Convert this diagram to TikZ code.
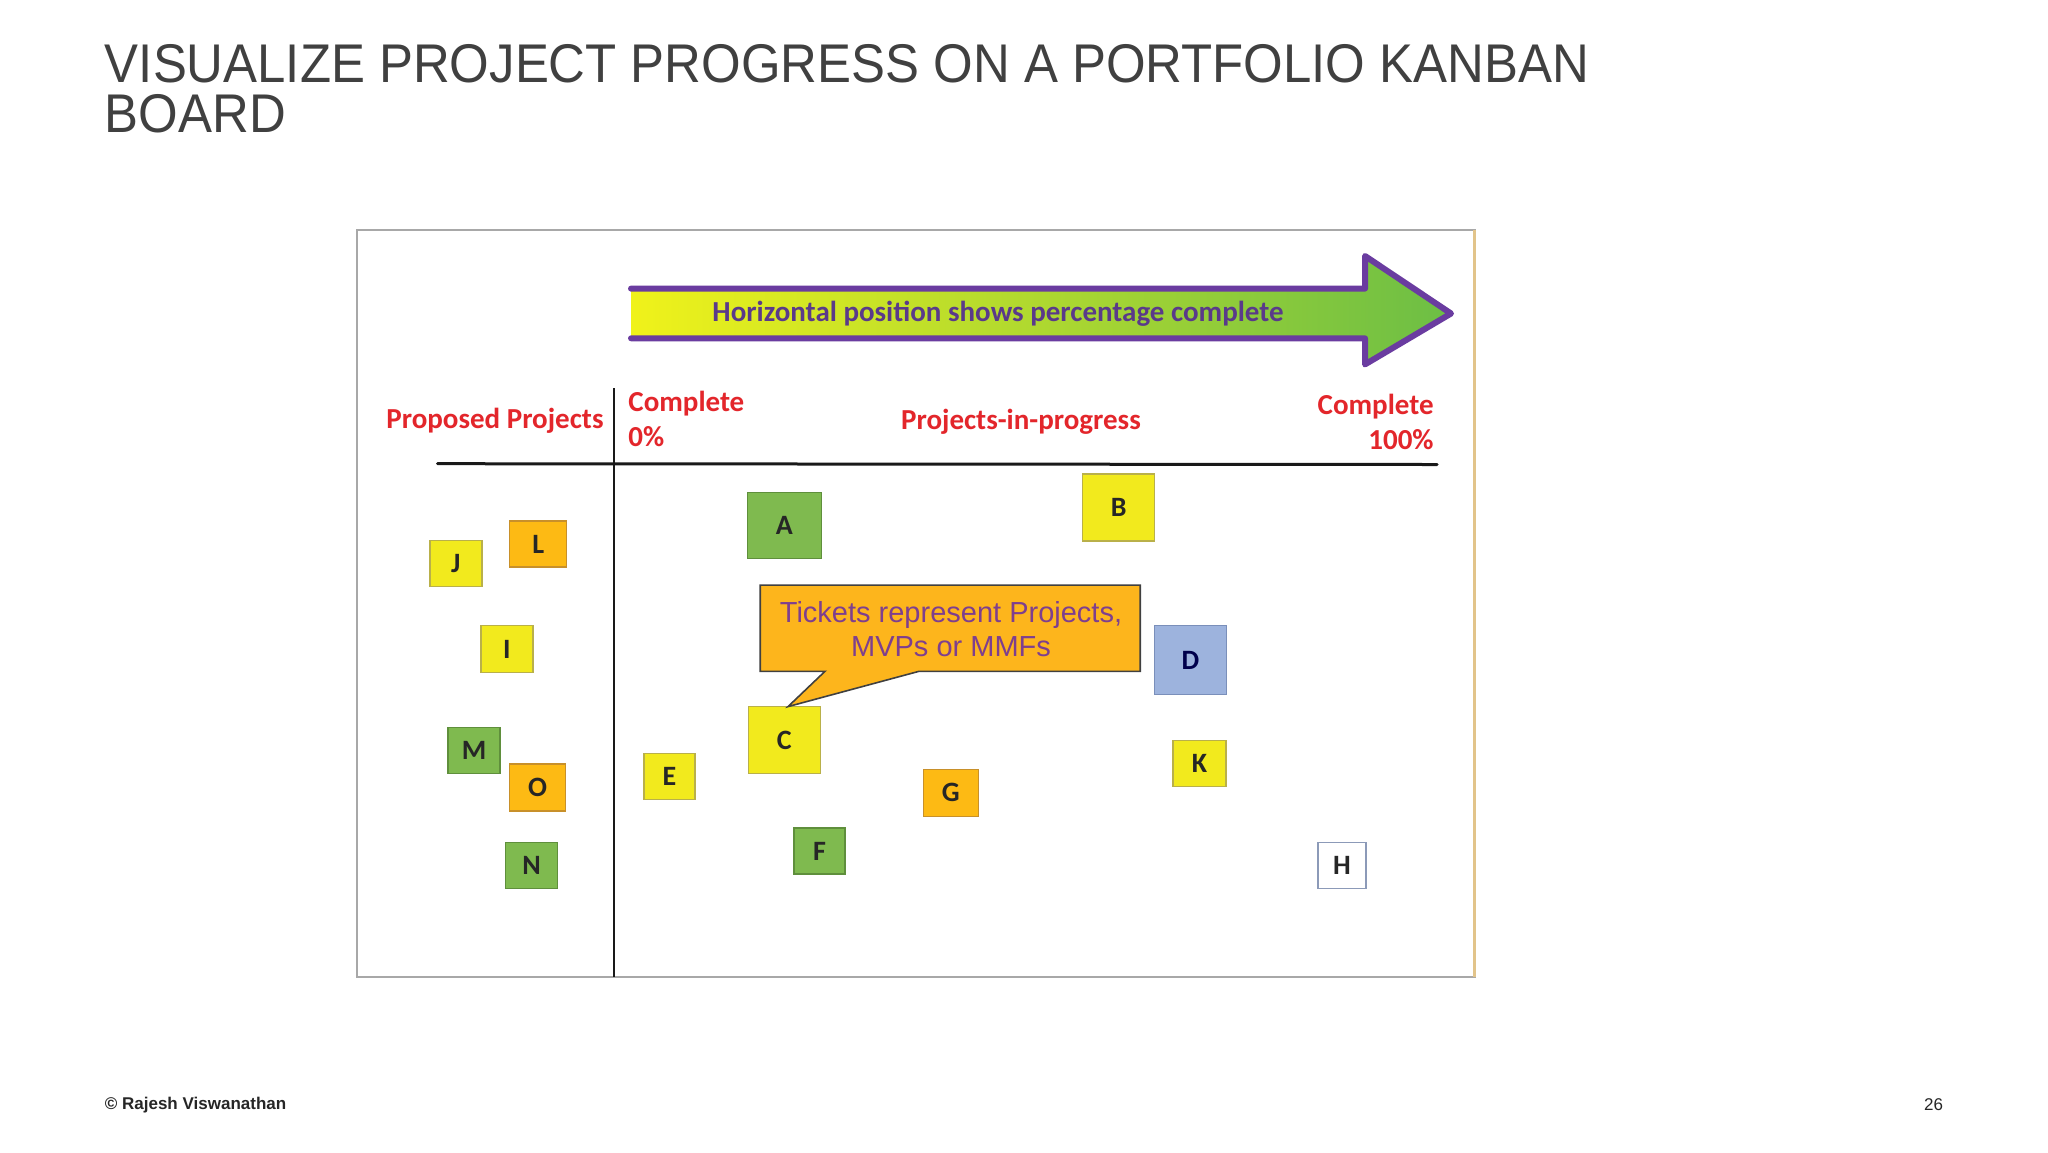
\documentclass[tikz,border=0pt]{standalone}
\usepackage{fontspec}
\setmainfont{Liberation Sans}
\newfontfamily\calib{Carlito}
\definecolor{titlegray}{HTML}{404040}
\definecolor{boardgray}{HTML}{A8A8A8}
\definecolor{boardtan}{HTML}{E2C48A}
\definecolor{hdrred}{HTML}{E3262B}
\definecolor{arrpurple}{HTML}{6A3CA0}
\definecolor{arrtext}{HTML}{5A3A8A}
\definecolor{ayellow}{HTML}{F0F21A}
\definecolor{amid}{HTML}{B9DA30}
\definecolor{agreen}{HTML}{6CBE45}
\definecolor{tyellow}{HTML}{F2EA1D}
\definecolor{tyellowd}{HTML}{B9B04A}
\definecolor{torange}{HTML}{FDBA14}
\definecolor{torange2}{HTML}{C8902A}
\definecolor{tgreen}{HTML}{7FBA4F}
\definecolor{tgreend}{HTML}{5F8F3C}
\definecolor{tblue}{HTML}{9DB3DD}
\definecolor{tblued}{HTML}{7A8FBA}
\definecolor{twhited}{HTML}{8C9AB8}
\definecolor{corange}{HTML}{FDB51C}
\definecolor{ctext}{HTML}{7E3F8E}
\begin{document}
\begin{tikzpicture}[x=0.5pt,y=-0.5pt,
  ticket/.style={line width=0.75pt, inner sep=0pt,
    font=\calib\bfseries\fontsize{14}{16}\selectfont, text=black!85},
  sz/.style 2 args={minimum width=#1*0.5pt, minimum height=#2*0.5pt},
  tky/.style={ticket, fill=tyellow, draw=tyellowd},
  tko/.style={ticket, fill=torange, draw=torange2},
  tkg/.style={ticket, fill=tgreen, draw=tgreend},
  tkb/.style={ticket, fill=tblue, draw=tblued, text=black!70!blue},
  tkw/.style={ticket, fill=white, draw=twhited},
  hdr/.style={text=hdrred, inner sep=0pt, font=\calib\bfseries\fontsize{14.5}{17.5}\selectfont},
  titlefont/.style={text=titlegray, inner sep=0pt, font=\fontsize{27.25}{30}\selectfont},
  foot/.style={text=black!85, inner sep=0pt, font=\fontsize{8.5}{10}\selectfont}
]
\useasboundingbox (0,0) rectangle (2048,1152);
\fill[white] (0,0) rectangle (2048,1152);

% title
\node[titlefont, anchor=base west] (title1) at (104.5,82) {\scalebox{0.934}[1]{VISUALIZE PROJECT PROGRESS ON A PORTFOLIO KANBAN}};
\node[titlefont, anchor=base west] (title2) at (104.5,132) {\scalebox{0.934}[1]{BOARD}};

% board frame
\draw[boardgray, line width=1pt] (356.6,229.9) rectangle (1474.6,977);
\draw[boardtan, line width=1.2pt] (1474.6,229.9) -- (1474.6,977);

% big arrow
\shade[left color=ayellow, middle color=amid, right color=agreen]
  (631,288.6) -- (1365,288.6) -- (1365,256) -- (1451,313.5) -- (1365,364.4) -- (1365,338.3) -- (631,338.3) -- cycle;
\draw[arrpurple, line width=3pt, line join=round, line cap=round]
  (631,288.6) -- (1365,288.6) -- (1365,256) -- (1451,313.5) -- (1365,364.4) -- (1365,338.3) -- (631,338.3);
\node[text=arrtext, inner sep=0pt, font=\calib\bfseries\fontsize{14.5}{16}\selectfont, anchor=base] (arrowtext) at (998,321) {Horizontal position shows percentage complete};

% headers
\node[hdr, anchor=base] (proposed) at (495,428) {Proposed Projects};
\node[hdr, anchor=base west] (c0a) at (628,411.4) {Complete};
\node[hdr, anchor=base west] (c0b) at (628,446.7) {0\%};
\node[hdr, anchor=base] (inprog) at (1021,429.7) {Projects-in-progress};
\node[hdr, anchor=base east] (c100a) at (1434,414) {Complete};
\node[hdr, anchor=base east] (c100b) at (1434,449.3) {100\%};

% divider lines
\draw[black!90, line width=1.5pt, line cap=round] (437.5,463.7) -- (1437,464.5);
\draw[black!90, line width=1.1pt] (614,388) -- (614,977);

% proposed tickets
\node[tky, sz={52}{46}] (J) at (455.8,563.6) {J};
\node[tko, sz={57}{46}] (L) at (538.2,544) {L};
\node[tky, sz={52}{47}] (I) at (506.8,649) {I};
\node[tkg, sz={52}{46}] (M) at (474,750.4) {M};
\node[tko, sz={56}{47}] (O) at (537.5,787.5) {O};
\node[tkg, sz={52}{46}] (N) at (531.6,865.3) {N};

% in-progress tickets
\node[tkg, sz={74}{66}] (A) at (784.3,525.7) {A};
\node[tky, sz={72}{67}] (B) at (1118.7,507.4) {B};
\node[tky, sz={72}{67}] (C) at (784.3,740) {C};
\node[tkb, sz={72}{69}] (D) at (1190.5,660.2) {D};
\node[tky, sz={51}{46}] (E) at (669.4,776.5) {E};
\node[tkg, sz={51}{46}] (F) at (819.5,851) {F};
\node[tko, sz={55}{47}] (G) at (950.9,792.8) {G};
\node[tky, sz={53}{46}] (K) at (1199.6,763.4) {K};
\node[tkw, sz={48}{46}] (H) at (1342,865.3) {H};

% callout
\draw[fill=corange, draw=black!75, line width=0.8pt, line join=miter]
  (760.2,585.1) -- (1140.2,585.1) -- (1140.2,671.3) -- (919,671.3) -- (788,706.6) -- (825,671.3) -- (760.2,671.3) -- cycle;
\node[text=ctext, inner sep=0pt, align=center, font=\fontsize{14.5}{17}\selectfont] (callout) at (951,629) {Tickets represent Projects,\\MVPs or MMFs};

% footer
\node[foot, anchor=west, font=\bfseries\fontsize{8.5}{10}\selectfont] (copy) at (104.5,1105) {© Rajesh Viswanathan};
\node[foot, anchor=east] (page) at (1943.5,1105) {26};
\end{tikzpicture}
\end{document}
